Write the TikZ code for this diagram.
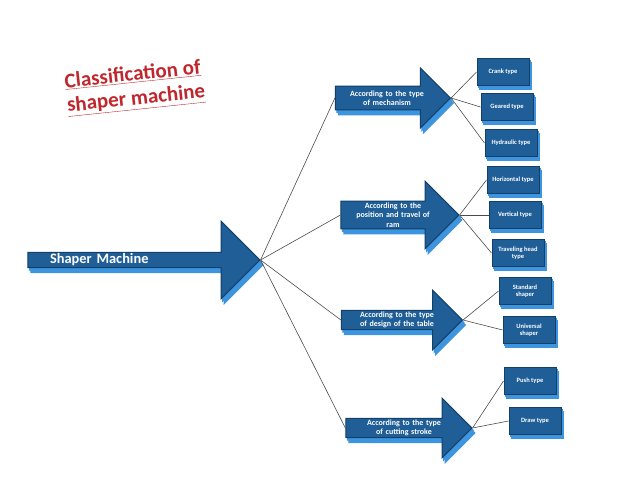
\documentclass[tikz,border=0pt]{standalone}
\usepackage{fontspec}
\setmainfont{Carlito}
\usetikzlibrary{shapes.arrows,shadows}
\definecolor{bfill}{HTML}{1F5E97}
\definecolor{bedge}{HTML}{143F66}
\definecolor{blight}{HTML}{3C95DE}
\definecolor{tred}{HTML}{C0272D}
\tikzset{
  bigarrow/.style={single arrow, fill=bfill, draw=bedge, line width=1pt, text=white, font=\bfseries\footnotesize, align=center, inner sep=1pt,
     double copy shadow={shadow xshift=1.5pt, shadow yshift=-2.5pt, fill=blight, draw=blight}},
  leaf/.style={rectangle, fill=bfill, draw=bedge, line width=1pt, text=white, font=\bfseries\fontsize{6.5}{7.5}\selectfont, align=center,
     minimum width=52pt, minimum height=27pt, inner sep=1pt,
     double copy shadow={shadow xshift=1pt, shadow yshift=-2pt, fill=blight, draw=blight}},
  link/.style={draw=black!70, line width=0.6pt}
}
\begin{document}
\begin{tikzpicture}[x=1pt,y=-1pt]
\useasboundingbox (0,0) rectangle (638,478);
\node[text=tred, font=\bfseries\fontsize{21}{24}\selectfont, rotate=6, align=left] (title) at (135,88)
  {\underline{Classification of}\\ \underline{shaper machine}};
\node[bigarrow, minimum height=232pt, minimum width=76pt, single arrow head extend=31pt, font=\bfseries\Large,
  text width=200pt, align=left] (a0) at (140,260) {\hspace{10pt}Shaper Machine};
\node[bigarrow, minimum height=115pt, minimum width=60pt, single arrow head extend=14pt, text width=95pt] (a1) at (387,98) {According to the type\\ of mechanism};
\node[bigarrow, minimum height=118pt, minimum width=52pt, single arrow head extend=20pt, text width=95pt] (a2) at (393,215) {According to the\\ position and travel of\\ ram};
\node[bigarrow, minimum height=121pt, minimum width=54pt, single arrow head extend=20pt, text width=95pt] (a3) at (397,320) {According to the type\\ of design of the table};
\node[bigarrow, minimum height=126pt, minimum width=56pt, single arrow head extend=20pt, text width=95pt] (a4) at (404,428) {According to the type\\ of cutting stroke};
\node[leaf] (l1) at (503,72) {Crank type};
\node[leaf] (l2) at (507,107) {Geared type};
\node[leaf] (l3) at (511,143) {Hydraulic type};
\node[leaf] (l4) at (513,180) {Horizontal type};
\node[leaf] (l5) at (515,215) {Vertical type};
\node[leaf] (l6) at (518,253) {Traveling head\\ type};
\node[leaf] (l7) at (525,291) {Standard\\ shaper};
\node[leaf] (l8) at (529,330) {Universal\\ shaper};
\node[leaf] (l9) at (530,381) {Push type};
\node[leaf] (l10) at (535,421) {Draw type};
\foreach \m in {a1,a2,a3,a4} \draw[link] (a0.tip) -- (\m.west);
\foreach \l in {l1,l2,l3} \draw[link] (a1.tip) -- (\l.west);
\foreach \l in {l4,l5,l6} \draw[link] (a2.tip) -- (\l.west);
\foreach \l in {l7,l8} \draw[link] (a3.tip) -- (\l.west);
\foreach \l in {l9,l10} \draw[link] (a4.tip) -- (\l.west);
\end{tikzpicture}
\end{document}
